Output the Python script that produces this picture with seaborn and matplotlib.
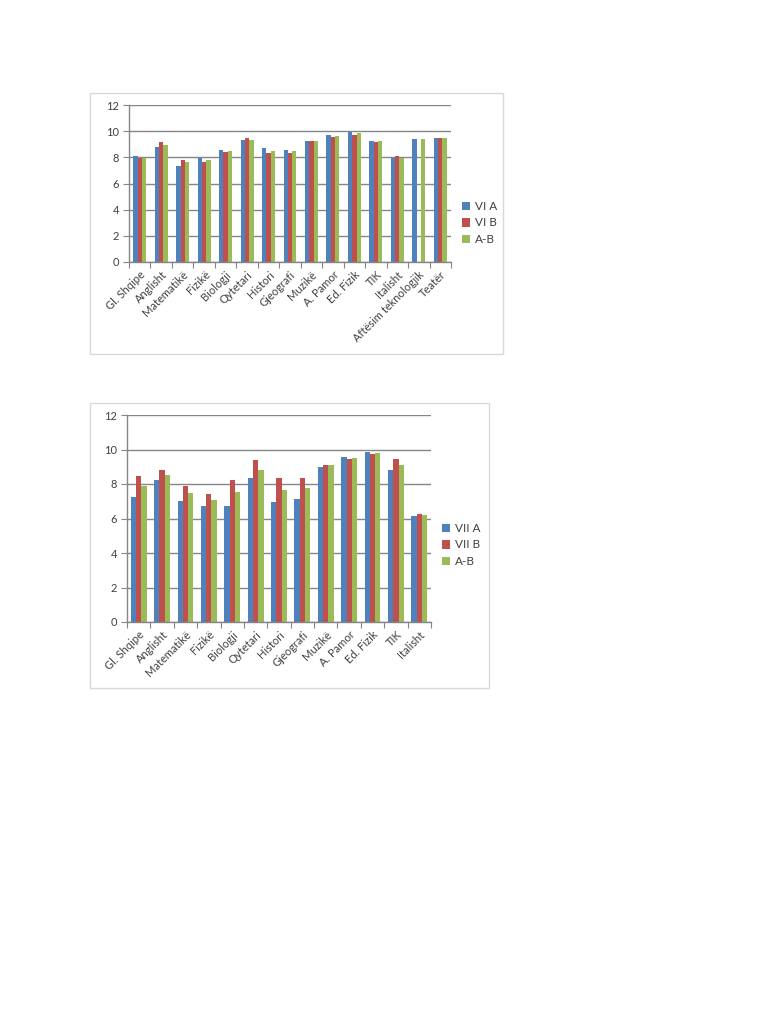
import numpy as np
import pandas as pd
import seaborn as sns
import matplotlib.pyplot as plt
from matplotlib.patches import Rectangle

# chart 1 - class VI
subjects_6 = ['Gl. Shqipe', 'Anglisht', 'Matematikë', 'Fizikë', 'Biologji', 'Qytetari',
              'Histori', 'Gjeografi', 'Muzikë', 'A. Pamor', 'Ed. Fizik', 'TIK',
              'Italisht', 'Aftësim teknologjik', 'Teatër']
vi_a = [8.1, 8.8, 7.37, 7.98, 8.57, 9.3, 8.72, 8.57, 9.28, 9.69, 9.92, 9.28, 7.98, 9.43, 9.51]
vi_b = [7.96, 9.2, 7.8, 7.63, 8.42, 9.46, 8.34, 8.34, 9.28, 9.59, 9.69, 9.2, 8.11, np.nan, 9.51]
vi_ab = [7.98, 8.95, 7.63, 7.8, 8.5, 9.36, 8.5, 8.5, 9.28, 9.66, 9.84, 9.28, 7.98, 9.43, 9.51]
series_6 = ['VI A', 'VI B', 'A-B']

# chart 2 - class VII
subjects_7 = ['Gl. Shqipe', 'Anglisht', 'Matematikë', 'Fizikë', 'Biologji', 'Qytetari',
              'Histori', 'Gjeografi', 'Muzikë', 'A. Pamor', 'Ed. Fizik', 'TIK', 'Italisht']
vii_a = [7.26, 8.23, 7.03, 6.72, 6.72, 8.34, 6.97, 7.14, 8.96, 9.54, 9.83, 8.83, 6.13]
vii_b = [8.46, 8.83, 7.86, 7.43, 8.23, 9.37, 8.34, 8.34, 9.13, 9.43, 9.72, 9.43, 6.25]
vii_ab = [7.88, 8.52, 7.45, 7.08, 7.51, 8.83, 7.64, 7.76, 9.08, 9.48, 9.79, 9.13, 6.19]
series_7 = ['VII A', 'VII B', 'A-B']

colors = ['#4F81BD', '#C0504D', '#9BBB59']
grid_col = '#868686'
text_col = '#404040'

plt.rcParams['font.family'] = ['Lato', 'DejaVu Sans']
plt.rcParams['font.size'] = 8

fig = plt.figure(figsize=(7.68, 10.24), dpi=100)
fig.patch.set_facecolor('white')


def make_df(subjects, names, values):
    rows = []
    for name, vals in zip(names, values):
        for s, v in zip(subjects, vals):
            rows.append({'subject': s, 'class': name, 'grade': v})
    return pd.DataFrame(rows)


def draw_chart(rect, box, subjects, names, values, bar_width, legend_pos):
    fig.patches.append(Rectangle((box[0], box[1]), box[2], box[3], transform=fig.transFigure,
                                 facecolor='none', edgecolor='#d9d9d9', linewidth=1, zorder=-5))
    ax = fig.add_axes(rect)
    df = make_df(subjects, names, values)
    sns.barplot(data=df, x='subject', y='grade', hue='class', order=subjects, hue_order=names,
                palette=colors, width=bar_width, gap=0, saturation=1, ax=ax, legend=False,
                edgecolor='none', linewidth=0)
    n = len(subjects)
    ax.set_xlim(-0.5, n - 0.5)
    ax.set_ylim(0, 12)
    ax.set_yticks(range(0, 13, 2))
    ax.yaxis.grid(True, color=grid_col, linewidth=1)
    ax.set_axisbelow(True)
    ax.set_facecolor('none')
    for side in ['top', 'right']:
        ax.spines[side].set_visible(False)
    for side in ['left', 'bottom']:
        ax.spines[side].set_color(grid_col)
        ax.spines[side].set_linewidth(1)
    # category boundaries as major ticks, labels on the minor ticks
    ax.set_xticks(np.arange(-0.5, n, 1))
    ax.set_xticklabels([])
    ax.set_xticks(np.arange(n), minor=True)
    ax.set_xticklabels(subjects, minor=True, rotation=45, ha='right', rotation_mode='anchor',
                       color=text_col, fontsize=8)
    ax.tick_params(axis='x', which='major', length=4, color=grid_col, direction='out')
    ax.tick_params(axis='x', which='minor', length=0, pad=5)
    ax.tick_params(axis='y', length=4, color=grid_col, labelcolor=text_col, labelsize=8, pad=3)
    ax.set_xlabel('')
    ax.set_ylabel('')
    handles = [Rectangle((0, 0), 1, 1, facecolor=c, edgecolor='none') for c in colors]
    fig.legend(handles, names, loc='center left', bbox_to_anchor=legend_pos,
               bbox_transform=fig.transFigure, frameon=False, handlelength=0.7,
               handleheight=0.7, handletextpad=0.4, labelspacing=0.45, fontsize=8.5,
               labelcolor=text_col, borderaxespad=0, borderpad=0)
    return ax


draw_chart([129 / 768, 1 - 262 / 1024, 322 / 768, 157 / 1024],
           [90 / 768, 1 - 354 / 1024, 413 / 768, 261 / 1024],
           subjects_6, series_6, [vi_a, vi_b, vi_ab], 0.6, (462 / 768, 1 - 223 / 1024))

draw_chart([127 / 768, 1 - 622 / 1024, 304 / 768, 207 / 1024],
           [90 / 768, 1 - 688 / 1024, 399 / 768, 285 / 1024],
           subjects_7, series_7, [vii_a, vii_b, vii_ab], 0.68, (442 / 768, 1 - 545 / 1024))

plt.savefig('out.png', dpi=100)
plt.close()
